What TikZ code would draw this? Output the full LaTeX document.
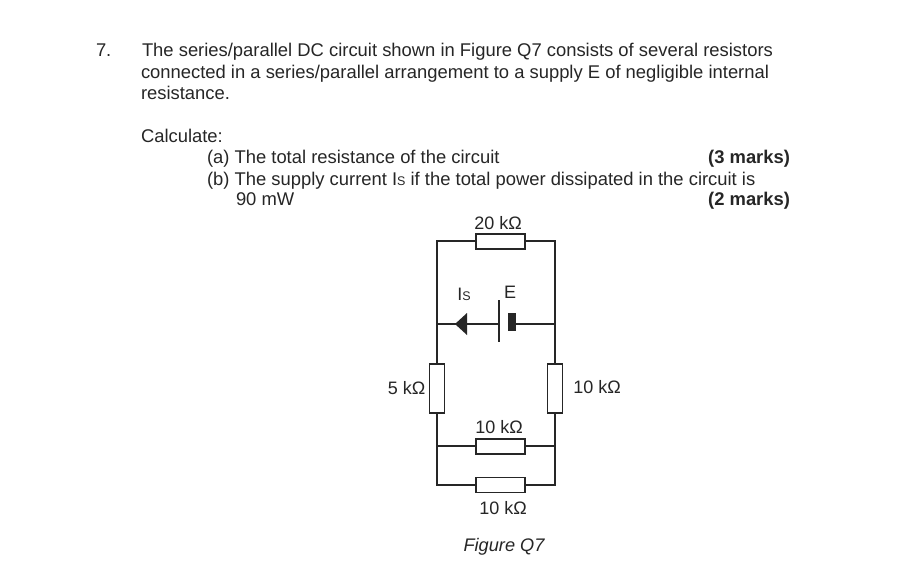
\documentclass[tikz,border=0pt]{standalone}
\usepackage{fontspec}
\setmainfont{Liberation Sans}
\usetikzlibrary{calc}
\definecolor{ink}{HTML}{262626}
\tikzset{
  txt/.style={anchor=base west,inner sep=0pt,outer sep=0pt,text=ink,font=\fontsize{18.4}{20}\selectfont},
  lab/.style={anchor=base,inner sep=0pt,text=ink,font=\fontsize{18}{20}\selectfont},
  boldtxt/.style={anchor=base east,inner sep=0pt,outer sep=0pt,text=ink,font=\fontsize{18.4}{20}\selectfont\bfseries},
  wire/.style={draw=ink,line width=1.5pt,line cap=rect},
  hres/.style={draw=ink,line width=1.8pt,fill=white,minimum width=49pt,minimum height=15pt,inner sep=0pt},
  vres/.style={draw=ink,line width=1.8pt,fill=white,minimum width=15pt,minimum height=49pt,inner sep=0pt}
}
\begin{document}
\begin{tikzpicture}[x=1pt,y=-1pt]
\useasboundingbox[fill=white] (0,0) rectangle (899,587);
% question text
\node[txt] (num) at (96,56) {7.};
\node[txt] (l1) at (142,56) {The series/parallel DC circuit shown in Figure Q7 consists of several resistors};
\node[txt] (l2) at (141,78) {connected in a series/parallel arrangement to a supply E of negligible internal};
\node[txt] (l3) at (141,99) {resistance.};
\node[txt] (calc) at (141,142) {Calculate:};
\node[txt] (qa) at (207,163) {(a) The total resistance of the circuit};
\node[boldtxt] (ma) at (790,163) {(3 marks)};
\node[txt] (qb) at (207,185) {(b) The supply current I{\fontsize{12.5}{14}\selectfont S} if the total power dissipated in the circuit is};
\node[txt] (qb2) at (236,205) {90 mW};
\node[boldtxt] (mb) at (790,205) {(2 marks)};
% circuit junctions
\coordinate (tl) at (437,241);
\coordinate (tr) at (555,241);
\coordinate (bl) at (437,324);
\coordinate (br) at (555,324);
\coordinate (ml) at (437,446);
\coordinate (mr) at (555,446);
\coordinate (ll) at (437,485);
\coordinate (lr) at (555,485);
\coordinate (pthin) at (499,324);
\coordinate (pthick) at (512,324);
% wires
\draw[wire] (tl) -- (tr);
\draw[wire] (tl) -- (bl) -- (ml) -- (ll) -- (lr) -- (mr) -- (br) -- (tr);
\draw[wire] (ml) -- (mr);
\draw[wire] (bl) -- (pthin);
\draw[wire] (pthick) -- (br);
% resistors
\node[hres] (r20) at (500.5,241.5) {};
\node[vres] (r5) at (437,388.5) {};
\node[vres] (r10a) at (555,388.5) {};
\node[hres] (r10b) at (500.5,446.5) {};
\node[hres] (r10c) at (500.5,485) {};
% battery
\draw[draw=ink,line width=1.5pt] (499,300) -- (499,342);
\fill[ink] (508,313) rectangle (516,331);
% arrow
\fill[ink] (455,324) -- (467,313) -- (467,335) -- cycle;
% labels
\node[lab] (t20) at (498,229) {20 kΩ};
\node[lab] (tis) at (464,300) {I{\fontsize{12.5}{14}\selectfont S}};
\node[lab] (te) at (510,298) {E};
\node[lab] (t5) at (406.5,394) {5 kΩ};
\node[lab] (t10a) at (597,393) {10 kΩ};
\node[lab] (t10b) at (499,433) {10 kΩ};
\node[lab] (t10c) at (503,514) {10 kΩ};
\node[lab,font=\fontsize{18.2}{20}\selectfont\itshape] (fig) at (504,551) {Figure Q7};
\end{tikzpicture}
\end{document}
